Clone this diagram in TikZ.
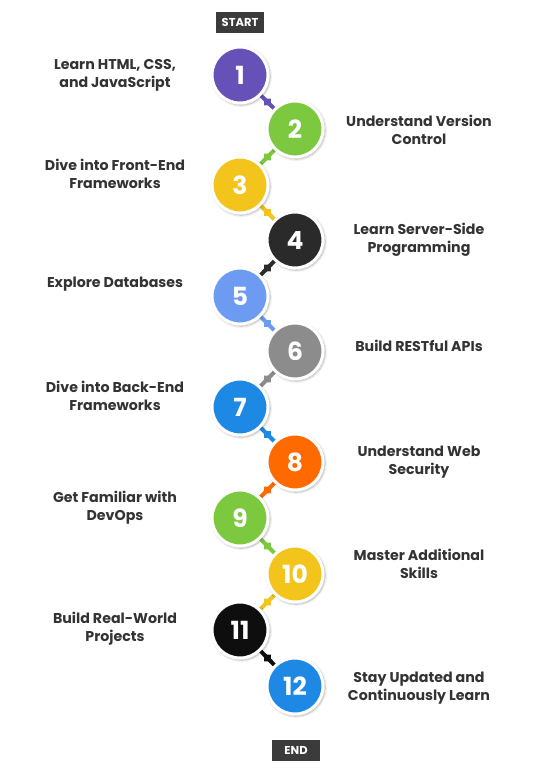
\documentclass[tikz,border=0pt]{standalone}
\usepackage{fontspec}
\setmainfont{Poppins}
\usetikzlibrary{backgrounds,shadows.blur,shapes}

\definecolor{cpurple}{HTML}{6651B9}
\definecolor{cgreen}{HTML}{7CC940}
\definecolor{cyellow}{HTML}{F3C41C}
\definecolor{cdark}{HTML}{2A2A2A}
\definecolor{clight}{HTML}{6C9BF1}
\definecolor{cgray}{HTML}{8C8C8C}
\definecolor{cblue}{HTML}{1E88E5}
\definecolor{corange}{HTML}{FF6A00}
\definecolor{cblack}{HTML}{0E0E0E}
\definecolor{ctext}{HTML}{333333}
\definecolor{cbox}{HTML}{3B3B3B}

\begin{document}
\begin{tikzpicture}[x=1pt, y=-1pt]
\tikzstyle{basicshadow}=[blur shadow={shadow blur steps=8, shadow xshift=1.2pt, shadow yshift=-1.2pt, shadow scale=1.03, shadow opacity=30}]
\tikzstyle{stepcircle}=[circle, draw=white, line width=3pt, minimum size=56pt, inner sep=0pt, basicshadow, text=white, font=\bfseries\fontsize{25}{25}\selectfont]
\tikzstyle{label}=[align=center, text=ctext, font=\bfseries\fontsize{14.2}{18}\selectfont]
\tikzstyle{endbox}=[fill=cbox, text=white, minimum width=48pt, minimum height=21pt, inner sep=0pt, font=\bfseries\fontsize{11.5}{11.5}\selectfont]
\tikzstyle{edgestyle}=[line width=4pt]
\tikzstyle{knot}=[diamond, fill, minimum size=11pt, inner sep=0pt, sloped]
\useasboundingbox (0,0) rectangle (533,777);

\node[endbox] (start) at (240,22) {START};
\node[endbox] (end) at (296,750) {END};

\node[stepcircle, fill=cpurple] (op1) at (240,75) {1};
\node[stepcircle, fill=cgreen] (op2) at (295,129) {2};
\node[stepcircle, fill=cyellow] (op3) at (240,185) {3};
\node[stepcircle, fill=cdark] (op4) at (295,240) {4};
\node[stepcircle, fill=clight] (op5) at (240,296) {5};
\node[stepcircle, fill=cgray] (op6) at (295,351) {6};
\node[stepcircle, fill=cblue] (op7) at (240,407) {7};
\node[stepcircle, fill=corange] (op8) at (295,462) {8};
\node[stepcircle, fill=cgreen] (op9) at (240,518) {9};
\node[stepcircle, fill=cyellow] (op10) at (295,574) {10};
\node[stepcircle, fill=cblack] (op11) at (240,630) {11};
\node[stepcircle, fill=cblue] (op12) at (295,686) {12};

\begin{scope}[on background layer]
\draw[edgestyle, cpurple] (op1) -- node[knot] {} (op2);
\draw[edgestyle, cgreen] (op2) -- node[knot] {} (op3);
\draw[edgestyle, cyellow] (op3) -- node[knot] {} (op4);
\draw[edgestyle, cdark] (op4) -- node[knot] {} (op5);
\draw[edgestyle, clight] (op5) -- node[knot] {} (op6);
\draw[edgestyle, cgray] (op6) -- node[knot] {} (op7);
\draw[edgestyle, cblue] (op7) -- node[knot] {} (op8);
\draw[edgestyle, corange] (op8) -- node[knot] {} (op9);
\draw[edgestyle, cgreen] (op9) -- node[knot] {} (op10);
\draw[edgestyle, cyellow] (op10) -- node[knot] {} (op11);
\draw[edgestyle, cblack] (op11) -- node[knot] {} (op12);
\end{scope}

% left column
\node[label] (lb1) at (115,75) {Learn HTML, CSS,\\and JavaScript};
\node[label] (lb3) at (115,174) {Dive into Front-End\\Frameworks};
\node[label] (lb5) at (115,284) {Explore Databases};
\node[label] (lb7) at (115,396) {Dive into Back-End\\Frameworks};
\node[label] (lb9) at (115,508) {Get Familiar with\\DevOps};
\node[label] (lb11) at (115,629) {Build Real-World\\Projects};
% right column
\node[label] (lb2) at (419,130) {Understand Version\\Control};
\node[label] (lb4) at (419,240) {Learn Server-Side\\Programming};
\node[label] (lb6) at (419,346) {Build RESTful APIs};
\node[label] (lb8) at (419,462) {Understand Web\\Security};
\node[label] (lb10) at (419,564) {Master Additional\\Skills};
\node[label] (lb12) at (419,688) {Stay Updated and\\Continuously Learn};
\end{tikzpicture}
\end{document}
